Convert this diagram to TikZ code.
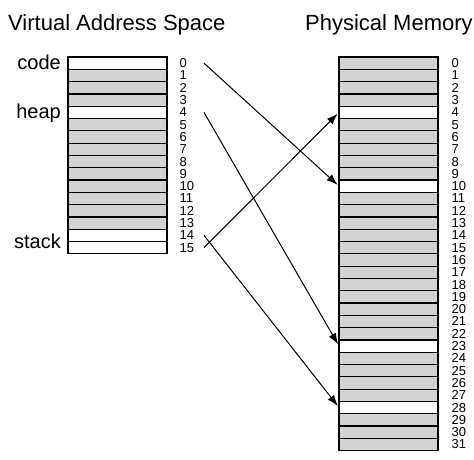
\documentclass[tikz,border=0pt]{standalone}
\usepackage{fontspec}
\setmainfont{Liberation Sans}
\usetikzlibrary{positioning,arrows.meta}
\definecolor{rowgray}{RGB}{211,211,211}
\tikzset{
  memrow/.style={draw=black, line width=1.2pt, minimum width=99pt, minimum height=12.3pt, inner sep=0pt, outer sep=0pt},
  rownum/.style={inner sep=0pt, font=\fontsize{13}{13}\selectfont},
  title/.style={inner sep=0pt, font=\fontsize{22}{22}\selectfont},
  seglbl/.style={inner sep=0pt, font=\fontsize{20}{20}\selectfont},
  maparrow/.style={line width=1pt, -{Latex[length=11pt,width=8pt]}, shorten >=2pt}
}

\begin{document}
\begin{tikzpicture}[x=1pt,y=-1pt]
\useasboundingbox (0,0) rectangle (474,460);
% virtual address space
\foreach \i in {0,...,15}{
  \pgfmathtruncatemacro\isfree{(\i==0)||(\i==4)||(\i==14)||(\i==15)}
  \ifnum\isfree=1 \def\rowfill{white}\else\def\rowfill{rowgray}\fi
  \node[memrow, fill=\rowfill] (v\i) at (117.5,{63.15+12.3*\i}) {};
  \node[rownum, right=12.5pt of v\i] (vn\i) {\i};
}
% physical memory
\foreach \i in {0,...,31}{
  \pgfmathtruncatemacro\isfree{(\i==4)||(\i==10)||(\i==23)||(\i==28)}
  \ifnum\isfree=1 \def\rowfill{white}\else\def\rowfill{rowgray}\fi
  \node[memrow, fill=\rowfill] (p\i) at (388.5,{63.15+12.3*\i}) {};
  \node[rownum, right=13.5pt of p\i] (pn\i) {\i};
}
\node[title, anchor=base west] (vtitle) at (8,31) {Virtual Address Space};
\node[title, anchor=base west] (ptitle) at (305,31) {Physical Memory};
\node[seglbl, anchor=base east] (code) at (61,70) {code};
\node[seglbl, anchor=base east] (heap) at (61,118) {heap};
\node[seglbl, anchor=base east] (stack) at (61,248) {stack};
% mappings
\draw[maparrow] ([xshift=37pt]v0.east) -- (p10.west);
\draw[maparrow] ([xshift=37pt]v4.east) -- (p23.west);
\draw[maparrow] ([xshift=37pt]v14.east) -- (p28.west);
\draw[maparrow] ([xshift=37pt]v15.east) -- (p4.west);
\end{tikzpicture}
\end{document}
